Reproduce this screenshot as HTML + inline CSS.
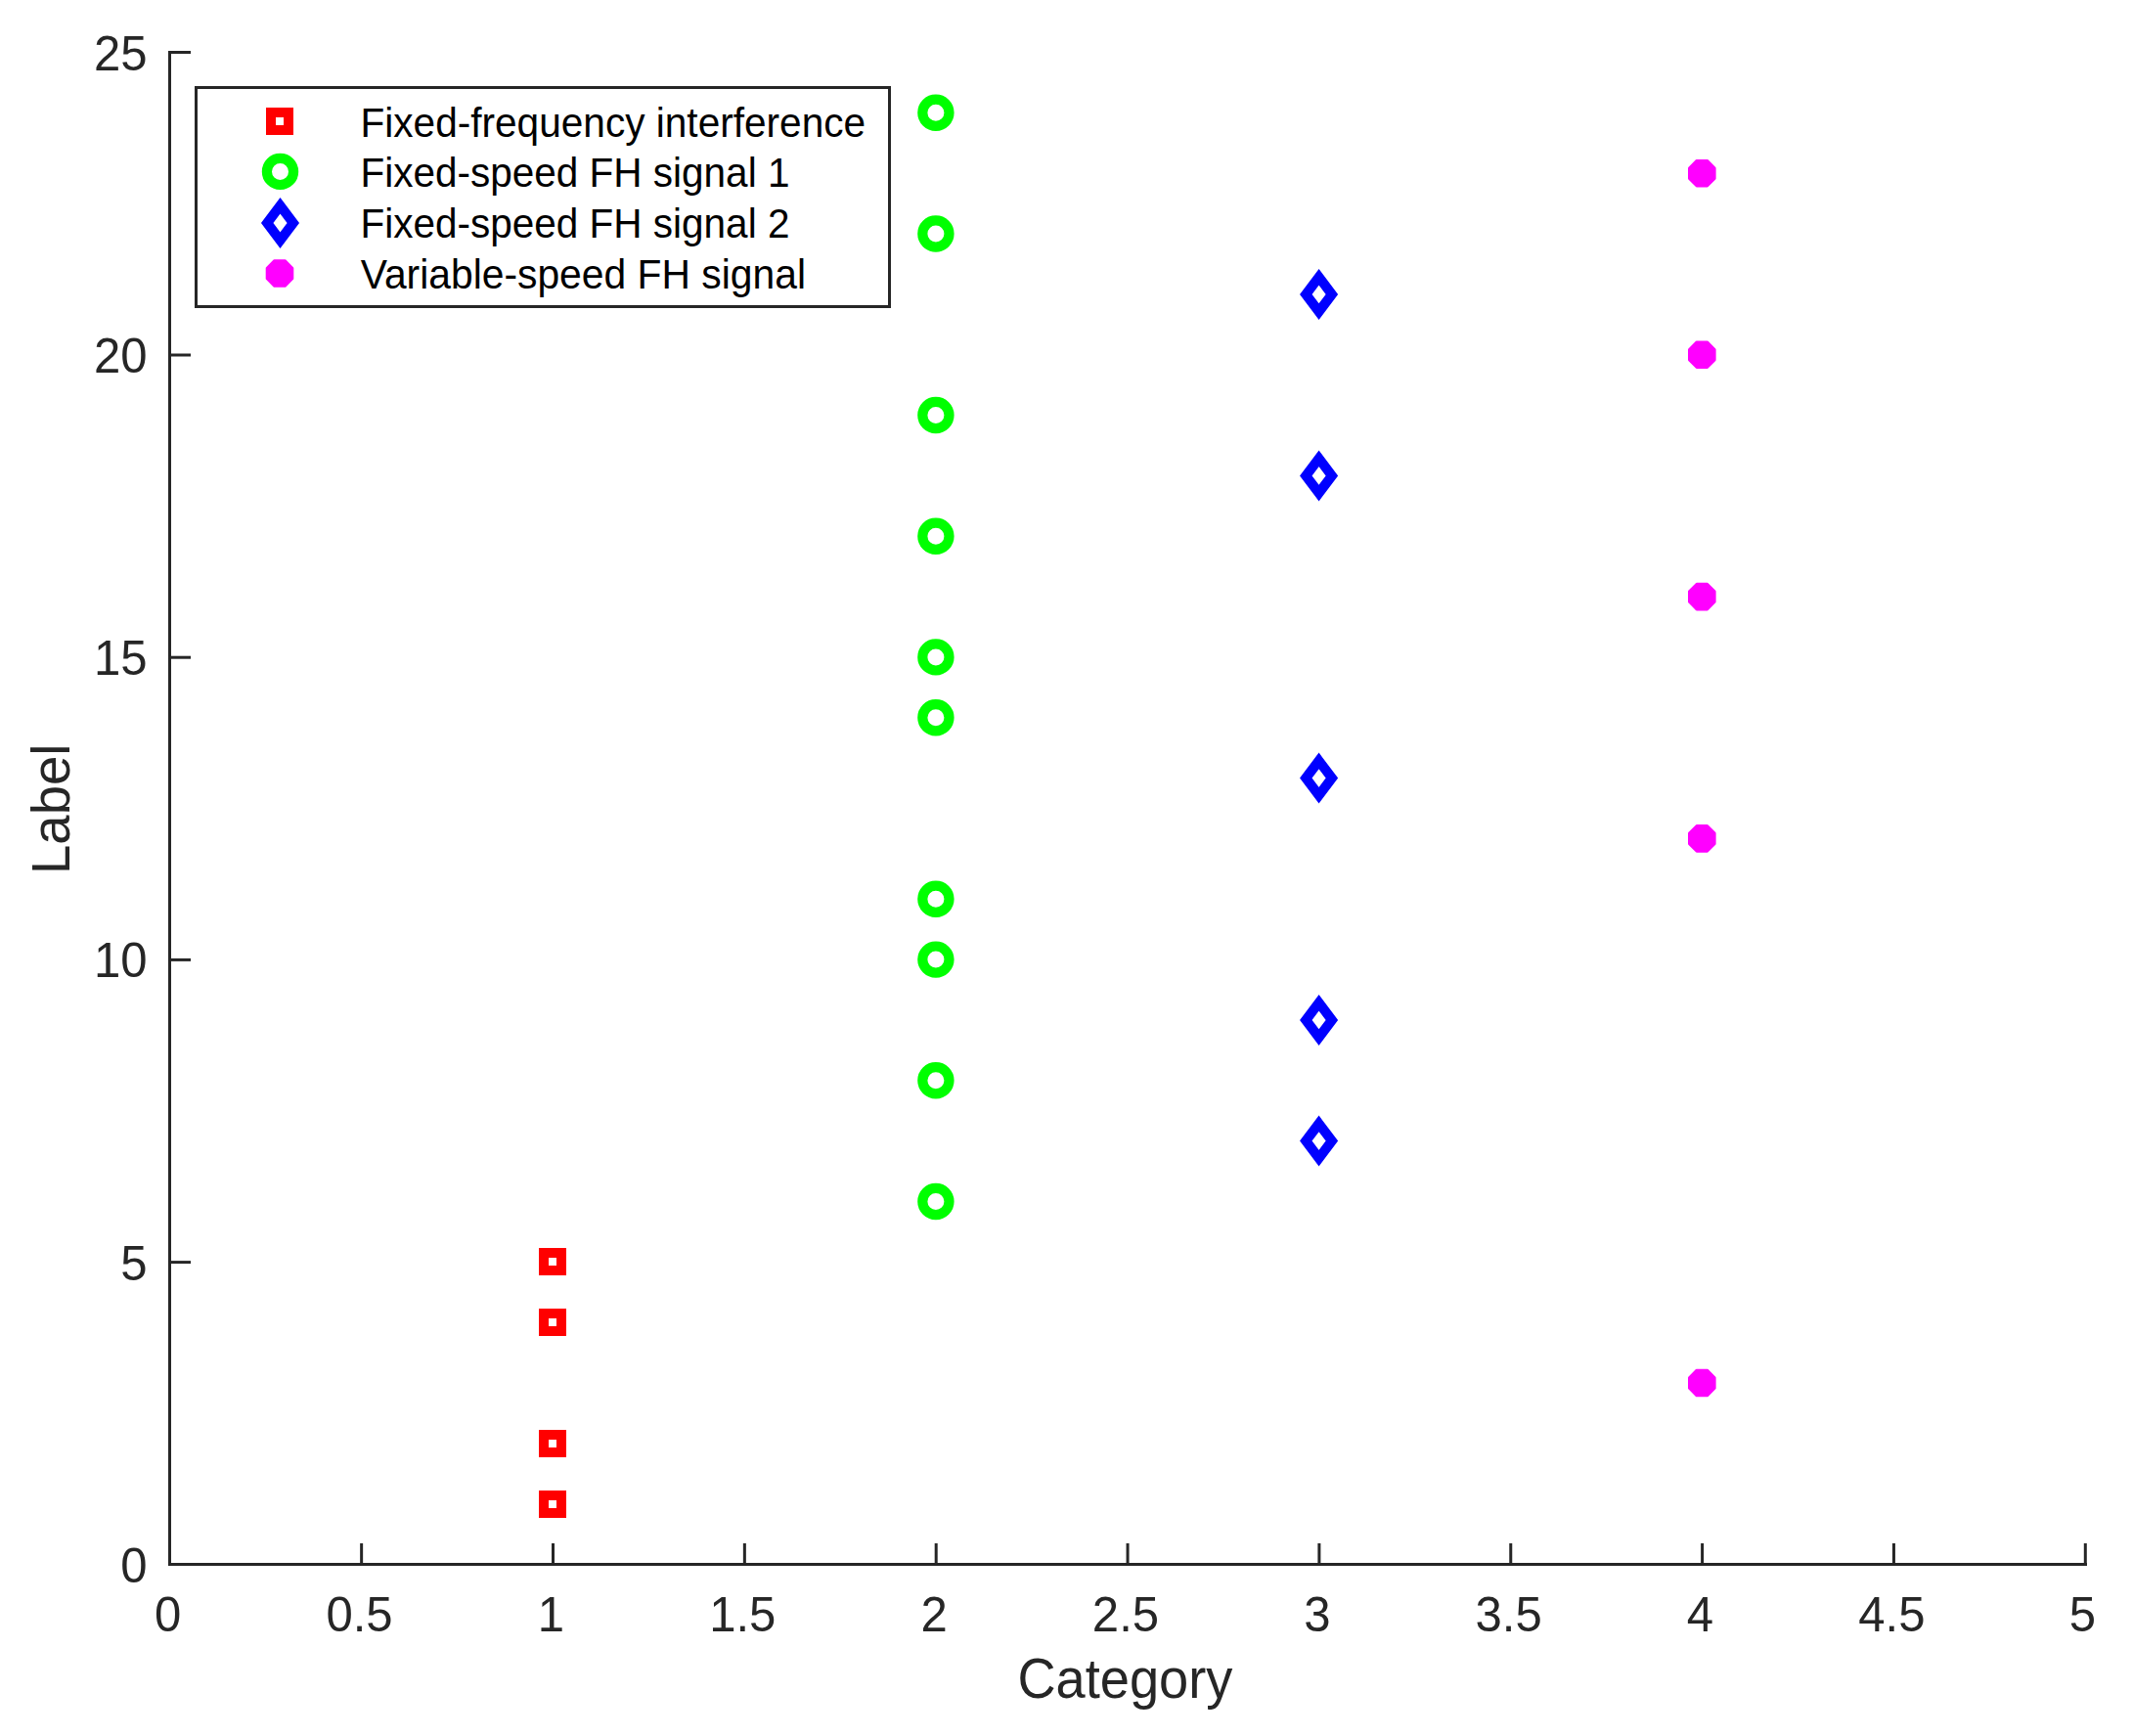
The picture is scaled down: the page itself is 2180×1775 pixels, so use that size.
<!DOCTYPE html>
<html lang="en"><head><meta charset="utf-8"><title>Category vs Label</title>
<style>
html,body{margin:0;padding:0;background:#fff;}
body{width:2180px;height:1775px;overflow:hidden;}
svg{display:block;}
text{font-family:"Liberation Sans",sans-serif;}
.tk{font-size:48.6px;fill:#262626;}
.lb{font-size:54.5px;fill:#262626;}
.lg{font-size:42.4px;fill:#000;}
</style></head><body>
<svg width="2180" height="1775" viewBox="0 0 2180 1775">
<rect x="0" y="0" width="2180" height="1775" fill="#fff"/>
<g fill="#262626">
<rect x="172" y="52" width="3" height="1549"/>
<rect x="172" y="1598" width="1962" height="3"/>
<rect x="172" y="1598.00" width="23" height="3"/>
<rect x="172" y="1289.10" width="23" height="3"/>
<rect x="172" y="979.90" width="23" height="3"/>
<rect x="172" y="670.70" width="23" height="3"/>
<rect x="172" y="361.50" width="23" height="3"/>
<rect x="172" y="52.00" width="23" height="3"/>
<rect x="172.00" y="1578" width="3" height="23"/>
<rect x="368.15" y="1578" width="3" height="23"/>
<rect x="564.00" y="1578" width="3" height="23"/>
<rect x="759.85" y="1578" width="3" height="23"/>
<rect x="955.70" y="1578" width="3" height="23"/>
<rect x="1151.55" y="1578" width="3" height="23"/>
<rect x="1347.40" y="1578" width="3" height="23"/>
<rect x="1543.25" y="1578" width="3" height="23"/>
<rect x="1739.10" y="1578" width="3" height="23"/>
<rect x="1934.95" y="1578" width="3" height="23"/>
<rect x="2130.80" y="1578" width="3" height="23"/>
</g>
<g class="tk" text-anchor="end">
<text class="tk" transform="translate(150.60 1617.70) scale(1.0100 1.0120)">0</text>
<text class="tk" transform="translate(150.60 1308.50) scale(1.0100 1.0120)">5</text>
<text class="tk" transform="translate(150.60 999.30) scale(1.0100 1.0120)">10</text>
<text class="tk" transform="translate(150.60 690.10) scale(1.0100 1.0120)">15</text>
<text class="tk" transform="translate(150.60 380.90) scale(1.0100 1.0120)">20</text>
<text class="tk" transform="translate(150.60 71.70) scale(1.0100 1.0120)">25</text>
</g>
<g class="tk" text-anchor="middle">
<text class="tk" transform="translate(171.70 1668.20) scale(1.0100 1.0120)">0</text>
<text class="tk" transform="translate(367.55 1668.20) scale(1.0100 1.0120)">0.5</text>
<text class="tk" transform="translate(563.40 1668.20) scale(1.0100 1.0120)">1</text>
<text class="tk" transform="translate(759.25 1668.20) scale(1.0100 1.0120)">1.5</text>
<text class="tk" transform="translate(955.10 1668.20) scale(1.0100 1.0120)">2</text>
<text class="tk" transform="translate(1150.95 1668.20) scale(1.0100 1.0120)">2.5</text>
<text class="tk" transform="translate(1346.80 1668.20) scale(1.0100 1.0120)">3</text>
<text class="tk" transform="translate(1542.65 1668.20) scale(1.0100 1.0120)">3.5</text>
<text class="tk" transform="translate(1738.50 1668.20) scale(1.0100 1.0120)">4</text>
<text class="tk" transform="translate(1934.35 1668.20) scale(1.0100 1.0120)">4.5</text>
<text class="tk" transform="translate(2129.30 1668.20) scale(1.0100 1.0120)">5</text>
</g>
<text class="lb" text-anchor="middle" transform="translate(1150.40 1736.20) scale(0.9950 1.0450)">Category</text>
<text class="lb" text-anchor="middle" transform="translate(71.00 827.30) rotate(-90) scale(1.0010 1.0300)">Label</text>
<g fill="none" stroke="#ff0000" stroke-width="10" stroke-linejoin="miter" shape-rendering="crispEdges">
<rect x="556.0" y="1529.0" width="18" height="18"/>
<rect x="556.0" y="1467.0" width="18" height="18"/>
<rect x="556.0" y="1343.0" width="18" height="18"/>
<rect x="556.0" y="1281.0" width="18" height="18"/>
<rect x="277.0" y="115.0" width="18" height="18"/>
</g>
<g fill="none" stroke="#00ff00" stroke-width="10.2">
<circle cx="956.9" cy="1228.5" r="13.6"/>
<circle cx="956.9" cy="1104.8" r="13.6"/>
<circle cx="956.9" cy="981.1" r="13.6"/>
<circle cx="956.9" cy="919.3" r="13.6"/>
<circle cx="956.9" cy="733.7" r="13.6"/>
<circle cx="956.9" cy="671.9" r="13.6"/>
<circle cx="956.9" cy="548.2" r="13.6"/>
<circle cx="956.9" cy="424.5" r="13.6"/>
<circle cx="956.9" cy="239.0" r="13.6"/>
<circle cx="956.9" cy="115.3" r="13.6"/>
<circle cx="286.5" cy="175.4" r="13.6"/>
</g>
<g fill="none" stroke="#0000ff" stroke-width="10" stroke-linejoin="miter" stroke-miterlimit="10">
<path d="M1348.6 1148.9L1361.9 1166.6L1348.6 1184.3L1335.3 1166.6Z"/>
<path d="M1348.6 1025.2L1361.9 1042.9L1348.6 1060.6L1335.3 1042.9Z"/>
<path d="M1348.6 777.9L1361.9 795.6L1348.6 813.3L1335.3 795.6Z"/>
<path d="M1348.6 468.7L1361.9 486.4L1348.6 504.1L1335.3 486.4Z"/>
<path d="M1348.6 283.2L1361.9 300.9L1348.6 318.6L1335.3 300.9Z"/>
<path d="M286.5 210.3L299.8 228.0L286.5 245.7L273.2 228.0Z"/>
</g>
<g fill="#ff00ff" stroke="#ff00ff" stroke-width="2.6" stroke-linejoin="round">
<polygon points="1753.3,1419.4 1745.7,1427.0 1734.9,1427.0 1727.3,1419.4 1727.3,1408.6 1734.9,1401.0 1745.7,1401.0 1753.3,1408.6"/>
<polygon points="1753.3,862.8 1745.7,870.4 1734.9,870.4 1727.3,862.8 1727.3,852.0 1734.9,844.4 1745.7,844.4 1753.3,852.0"/>
<polygon points="1753.3,615.4 1745.7,623.1 1734.9,623.1 1727.3,615.4 1727.3,604.7 1734.9,597.1 1745.7,597.1 1753.3,604.7"/>
<polygon points="1753.3,368.1 1745.7,375.7 1734.9,375.7 1727.3,368.1 1727.3,357.3 1734.9,349.7 1745.7,349.7 1753.3,357.3"/>
<polygon points="1753.3,182.6 1745.7,190.2 1734.9,190.2 1727.3,182.6 1727.3,171.8 1734.9,164.2 1745.7,164.2 1753.3,171.8"/>
<polygon points="299.0,284.9 291.4,292.5 280.6,292.5 273.0,284.9 273.0,274.1 280.6,266.5 291.4,266.5 299.0,274.1"/>
</g>
<rect x="200.5" y="89.5" width="709" height="224" fill="none" stroke="#262626" stroke-width="3" shape-rendering="crispEdges"/>
<g class="lg">
<text class="lg" transform="translate(368.50 140.00) scale(0.9573 1.0000)">Fixed-frequency interference</text>
<text class="lg" transform="translate(368.50 191.00) scale(0.9553 1.0000)">Fixed-speed FH signal 1</text>
<text class="lg" transform="translate(368.50 243.00) scale(0.9553 1.0000)">Fixed-speed FH signal 2</text>
<text class="lg" transform="translate(368.70 295.00) scale(0.9629 1.0000)">Variable-speed FH signal</text>
</g>
</svg>
</body></html>
